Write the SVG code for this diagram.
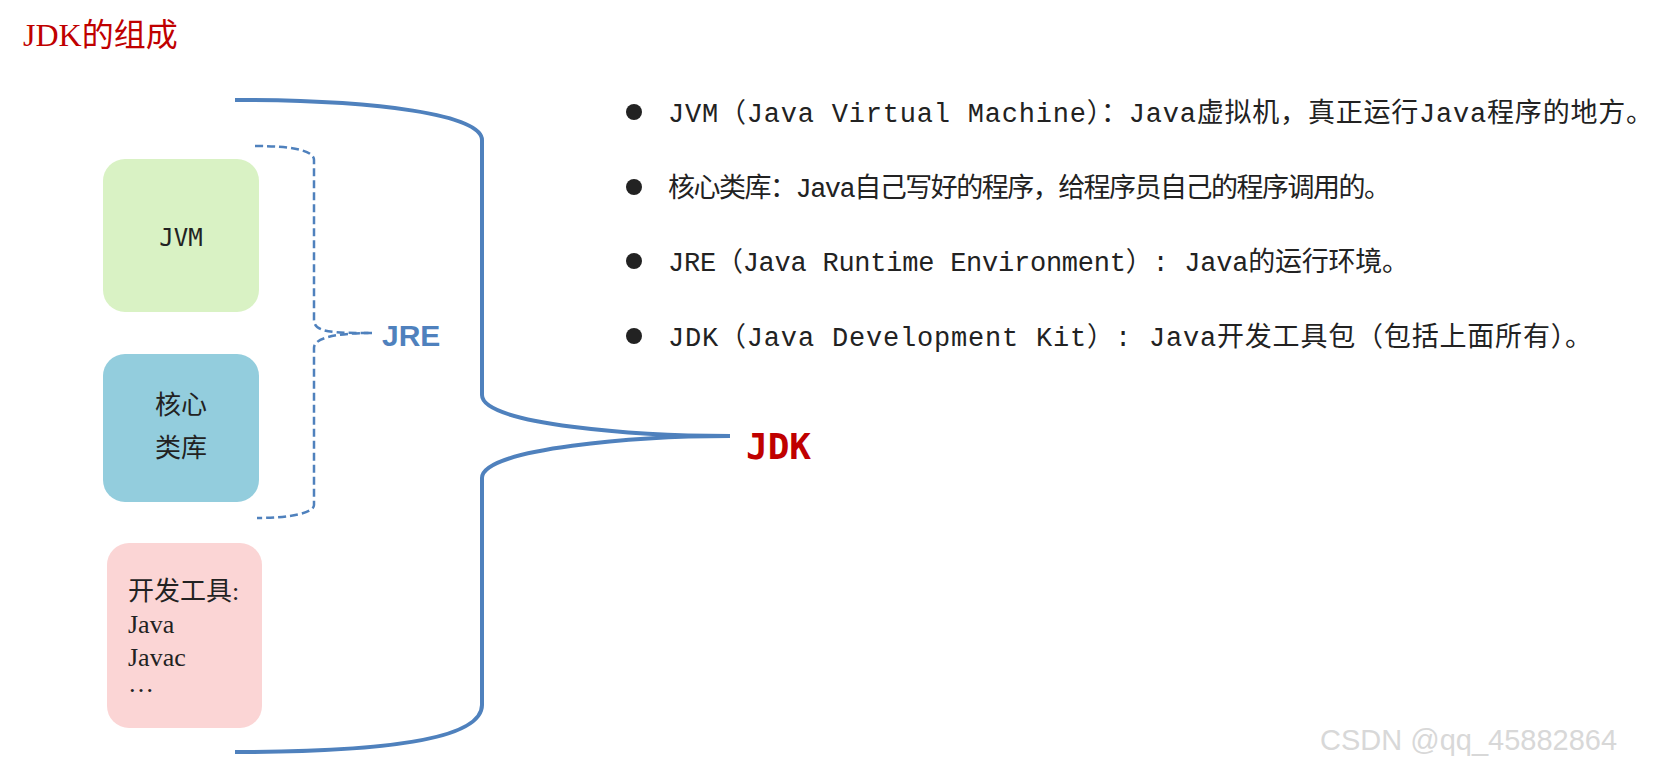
<svg xmlns="http://www.w3.org/2000/svg" width="1655" height="769" viewBox="0 0 1655 769">
<style>
.box{stroke:none}
.bt{font-family:"Liberation Serif","Noto Sans CJK SC",serif;font-size:26px;fill:#222}
.li{font-family:"Liberation Mono","Noto Sans CJK SC",monospace;font-size:27px;fill:#222}
.br{fill:none;stroke:#4f81bd;stroke-width:4}
.dash{fill:none;stroke:#4f81bd;stroke-width:2.5;stroke-dasharray:8 4}
</style>
<rect width="1655" height="769" fill="#fff"/>
<text x="23" y="46" font-family="Liberation Serif,'Noto Sans CJK SC',serif" font-size="32" fill="#c00000">JDK的组成</text>
<g id="jvm"><rect class="box" x="103" y="159" width="156" height="153" rx="22" fill="#d9f2c4"/>
<text x="181" y="246" text-anchor="middle" font-family="DejaVu Sans Mono,monospace" font-size="24" fill="#222">JVM</text></g>
<g id="corelib"><rect class="box" x="103" y="354" width="156" height="148" rx="22" fill="#93cddd"/>
<text class="bt" x="181" y="414" text-anchor="middle">核心</text><text class="bt" x="181" y="457" text-anchor="middle">类库</text></g>
<g id="tools"><rect class="box" x="107" y="543" width="155" height="185" rx="22" fill="#fbd5d5"/>
<text class="bt" x="128" y="600" font-size="24">开发工具:</text>
<text class="bt" x="128" y="633" font-size="24">Java</text>
<text class="bt" x="128" y="666" font-size="24">Javac</text>
<text class="bt" x="128" y="692" font-size="24">…</text></g>
<g id="connectors">
<path class="dash" d="M255,146 C290,146 314,150 314,160 L314,320 C314,333 335,333 372,333"/>
<path class="dash" d="M372,333 C335,333 314,338 314,348 L314,505 C314,513 290,518 257,518"/>
<path class="br" d="M235,100 C380,100 482,115 482,140 L482,395 C482,425 640,436 730,436"/>
<path class="br" d="M730,436 C640,436 482,448 482,478 L482,705 C482,740 380,752 235,752"/>
</g>
<g id="jre"><text x="382" y="346" font-family="Liberation Sans,sans-serif" font-weight="bold" font-size="30" fill="#4f81bd">JRE</text></g>
<g id="jdk"><text x="746" y="459" font-family="DejaVu Sans Mono,monospace" font-weight="bold" font-size="36" fill="#c00000">JDK</text></g>
<g id="list">
<circle cx="634" cy="112" r="8" fill="#222"/><circle cx="634" cy="187" r="8" fill="#222"/><circle cx="634" cy="261" r="8" fill="#222"/><circle cx="634" cy="336" r="8" fill="#222"/>
<text class="li" x="668" y="122" textLength="985" lengthAdjust="spacing">JVM（Java Virtual Machine）：Java虚拟机，真正运行Java程序的地方。</text>
<text class="li" x="668" y="197" textLength="723" lengthAdjust="spacing">核心类库：Java自己写好的程序，给程序员自己的程序调用的。</text>
<text class="li" x="668" y="271" textLength="741" lengthAdjust="spacing">JRE（Java Runtime Environment）: Java的运行环境。</text>
<text class="li" x="668" y="346" textLength="924" lengthAdjust="spacing">JDK（Java Development Kit）: Java开发工具包（包括上面所有）。</text>
</g>
<text x="1320" y="750" font-family="Liberation Sans,sans-serif" font-size="29" fill="#d8d8d8">CSDN @qq_45882864</text>
</svg>
